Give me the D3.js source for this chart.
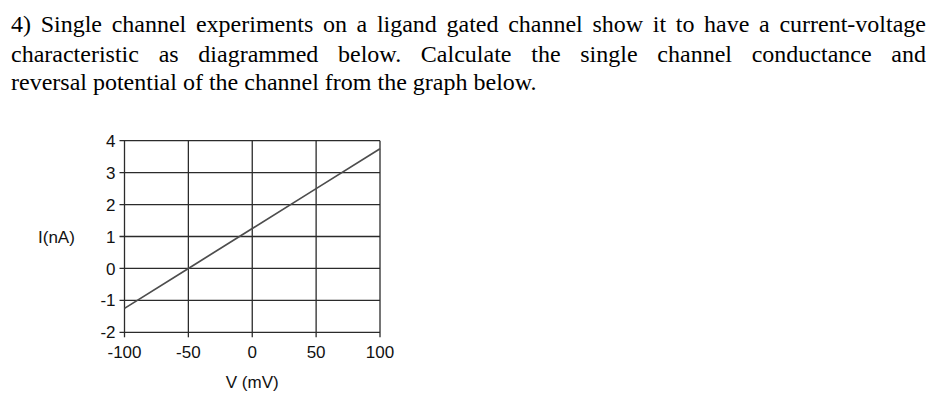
<!DOCTYPE html>
<html>
<head>
<meta charset="utf-8">
<script src="https://cdn.jsdelivr.net/npm/d3@7"></script>
<style>
  html, body { margin: 0; padding: 0; background: #fff; }
  svg { display: block; }
  .title { font-family: 'Liberation Serif', 'Times New Roman', serif; font-size: 24px; fill: #000; }
  .tick-label { font-family: 'Liberation Sans', Arial, sans-serif; font-size: 17px; fill: #111; }
  .axis-title { font-family: 'Liberation Sans', Arial, sans-serif; font-size: 17px; fill: #111; }
</style>
</head>
<body>
<div id="chart"></div>
<script>
// question text, one entry per printed line
const titleLines = [
  '4) Single channel experiments on a ligand gated channel show it to have a current-voltage',
  'characteristic as diagrammed below. Calculate the single channel conductance and',
  'reversal potential of the channel from the graph below.'
]

// I-V data
const voltage = [ -100, -50, 0, 50, 100 ]
const current = [ -1.25, 0, 1.25, 2.5, 3.75 ]

const xTicks = [ -100, -50, 0, 50, 100 ]
const yTicks = [ -2, -1, 0, 1, 2, 3, 4 ]

const width = 947
const height = 408

const svg = d3.select('#chart')
  .append('svg')
  .attr('width', width)
  .attr('height', height)

// title block, first two lines justified
const TITLE_LEFT = 11
const TITLE_RIGHT = 926
const titleBaselines = [ 32, 61.5, 90 ]

titleLines.forEach(function (line, i) {
  const t = svg.append('text')
    .attr('class', 'title')
    .attr('x', TITLE_LEFT)
    .attr('y', titleBaselines[i])
    .text(line)
  if (i < titleLines.length - 1) {
    const natural = t.node().getComputedTextLength()
    const spaces = line.split(' ').length - 1
    const extra = (TITLE_RIGHT - TITLE_LEFT - natural) / spaces
    t.attr('word-spacing', extra)
  }
})

// plot area
const x = d3.scaleLinear().domain([ -100, 100 ]).range([ 124.5, 380 ])
const y = d3.scaleLinear().domain([ -2, 4 ]).range([ 332.3, 140.7 ])

const grid = svg.append('g')

grid.selectAll('.vgrid')
  .data(xTicks)
  .enter().append('line')
  .attr('class', 'vgrid')
  .attr('x1', d => x(d))
  .attr('x2', d => x(d))
  .attr('y1', y(4))
  .attr('y2', y(-2) + 5)
  .attr('stroke', '#2b2b2b')
  .attr('stroke-width', 1.3)

grid.selectAll('.hgrid')
  .data(yTicks)
  .enter().append('line')
  .attr('class', 'hgrid')
  .attr('x1', x(-100) - 5)
  .attr('x2', x(100))
  .attr('y1', d => y(d))
  .attr('y2', d => y(d))
  .attr('stroke', '#2b2b2b')
  .attr('stroke-width', 1.3)

// tick labels
svg.selectAll('.ylab')
  .data(yTicks)
  .enter().append('text')
  .attr('class', 'tick-label')
  .attr('x', x(-100) - 9)
  .attr('y', d => y(d))
  .attr('dy', '0.36em')
  .attr('text-anchor', 'end')
  .text(d => d)

svg.selectAll('.xlab')
  .data(xTicks)
  .enter().append('text')
  .attr('class', 'tick-label')
  .attr('x', d => x(d))
  .attr('y', y(-2) + 26)
  .attr('text-anchor', 'middle')
  .text(d => d)

// axis titles
svg.append('text')
  .attr('class', 'axis-title')
  .attr('x', x(0))
  .attr('y', 388)
  .attr('text-anchor', 'middle')
  .text('V (mV)')

svg.append('text')
  .attr('class', 'axis-title')
  .attr('x', 38)
  .attr('y', y(1))
  .attr('dy', '0.36em')
  .text('I(nA)')

// I-V line
const line = d3.line()
  .x((d, i) => x(voltage[i]))
  .y(d => y(d))

svg.append('path')
  .datum(current)
  .attr('d', line)
  .attr('fill', 'none')
  .attr('stroke', '#4d4d4d')
  .attr('stroke-width', 1.7)
</script>
</body>
</html>
